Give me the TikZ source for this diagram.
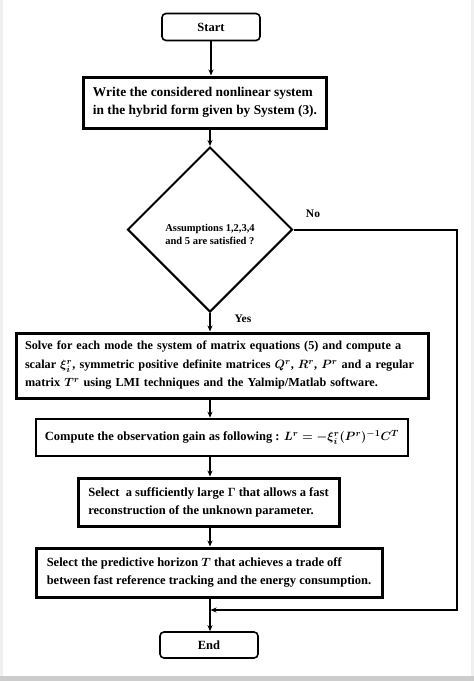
\documentclass[tikz,border=0pt]{standalone}
\usepackage{fontspec}
\setmainfont{Liberation Serif}
\usepackage{amsmath}
\usetikzlibrary{shapes.geometric,arrows.meta}
\begin{document}
\begin{tikzpicture}[x=1pt,y=-1pt,
  every node/.style={font=\boldmath\bfseries\fontsize{12.5}{18}\selectfont},
  termbox/.style={draw,rounded corners=4pt,line width=1.6pt,inner sep=0pt,minimum width=98pt,minimum height=27pt},
  stepbox/.style={draw,line width=3pt,inner ysep=2pt,inner xsep=9pt,align=left},
  decbox/.style={draw,diamond,aspect=1,line width=2pt,inner sep=0pt,minimum width=165pt,minimum height=165pt,align=left,font=\bfseries\fontsize{10.5}{12}\selectfont},
  arr/.style={line width=1.5pt,-{Stealth[length=6pt,width=5pt]}},
  lab/.style={font=\bfseries\fontsize{11.5}{13}\selectfont}
]
\useasboundingbox (0,0) rectangle (474,681);
\fill[white] (0,0) rectangle (474,681);
\fill[gray!12] (0,0) rectangle (2.5,681);
\fill[gray!12] (471,0) rectangle (474,681);
\fill[gray!40] (0,676) rectangle (474,681);

\node[termbox] (start) at (211,27) {Start};
\node[stepbox,minimum width=228pt,minimum height=51pt,font=\bfseries\fontsize{13.4}{18}\selectfont] (b1) at (205,102.5)
  {Write the considered nonlinear system\\in the hybrid form given by System (3).};
\node[decbox] (dia) at (210,229.5) {\raisebox{0pt}[\dimexpr\height+10pt\relax]{\shortstack[l]{Assumptions 1,2,3,4\\[1pt]and 5 are satisfied ?}}};
\node[stepbox,minimum width=412pt,minimum height=65pt,text width=394pt,font=\boldmath\bfseries\fontsize{12.2}{18.5}\selectfont] (b2) at (222,365.5)
  {Solve for each mode the system of matrix equations (5) and compute a\\
   scalar $\xi_i^r$, symmetric positive definite matrices $Q^r$, $R^r$, $P^r$ and a regular\\
   matrix $T^r$ using LMI techniques and the Yalmip/Matlab software.};
\node[stepbox,line width=2.6pt,minimum width=364pt,minimum height=37pt] (b3) at (222,437.5)
  {Compute the observation gain as following : $L^r = -\xi_i^r(P^r)^{-1}C^T$};
\node[stepbox,minimum width=261pt,minimum height=48pt] (b4) at (208.5,502)
  {Select\ \ a sufficiently large $\Gamma$ that allows a fast\\reconstruction of the unknown parameter.};
\node[stepbox,minimum width=346pt,minimum height=49pt] (b5) at (209,572.5)
  {Select the predictive horizon $T$ that achieves a trade off\\between fast reference tracking and the energy consumption.};
\node[termbox,minimum height=26pt] (end) at (209,645) {End};

\draw[arr] (start.south) -- (start.south |- b1.north);
\draw[arr] (dia.north |- b1.south) -- (dia.north);
\draw[arr] (dia.south) -- (dia.south |- b2.north);
\draw[arr] (dia.south |- b2.south) -- (dia.south |- b3.north);
\draw[arr] (dia.south |- b3.south) -- (dia.south |- b4.north);
\draw[arr] (dia.south |- b4.south) -- (dia.south |- b5.north);
\draw[arr] (dia.south |- b5.south) -- (dia.south |- end.north);

\coordinate (n1) at (457,229.5);
\coordinate (n2) at (457,610);
\coordinate (jn) at (210.5,610);
\draw[line width=2pt,-{Stealth[length=6pt,width=5pt]}] (dia.east) -- (n1) -- (n2) -- (jn);

\node[lab] (no) at (313,214) {No};
\node[lab] (yes) at (243,319) {Yes};
\end{tikzpicture}
\end{document}
